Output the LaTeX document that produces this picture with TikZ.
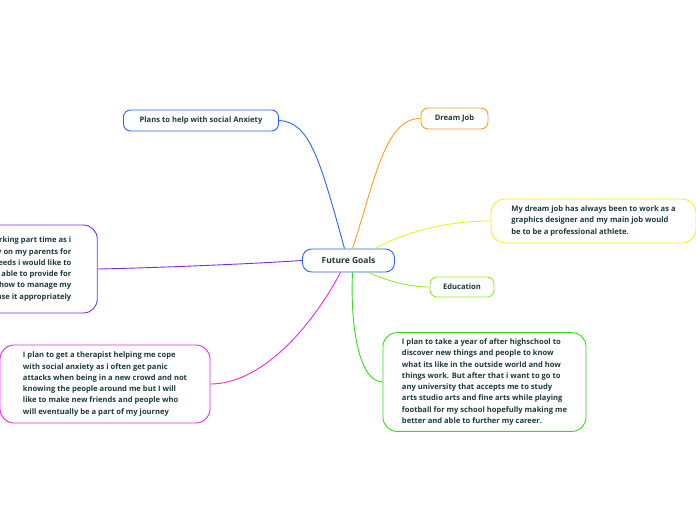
\documentclass[tikz,border=0pt]{standalone}
\usepackage{fontspec}
\setmainfont{Open Sans}
\definecolor{txt}{HTML}{1C3B3B}
\definecolor{cblue}{HTML}{2962FF}
\definecolor{corange}{HTML}{FF9E1A}
\definecolor{cyellow}{HTML}{F2F01E}
\definecolor{clime}{HTML}{9CE81C}
\definecolor{cgreen}{HTML}{33DD1A}
\definecolor{cpurple}{HTML}{7A2BF0}
\definecolor{cmag}{HTML}{E62BE6}
\tikzset{
 topic/.style={draw,rounded corners=7pt,line width=0.9pt,fill=white,font=\fontsize{7.6}{11.3}\selectfont\bfseries,text=txt,inner sep=4pt},
 big/.style={topic,rounded corners=14pt,align=left,inner xsep=9pt,inner ysep=6pt},
 link/.style={line width=0.9pt}
}
\begin{document}
\begin{tikzpicture}[x=1pt,y=-1pt]
\useasboundingbox (0,0) rectangle (696,520);
\clip (0,0) rectangle (696,520);
\node[topic,draw=cblue,minimum width=92pt,minimum height=23pt,rounded corners=9pt,font=\fontsize{8.5}{9}\selectfont\bfseries] (root) at (348.5,260.5) {Future Goals};
\node[topic,draw=cblue,minimum width=155pt,minimum height=21pt] (plans) at (201,120.5) {Plans to help with social Anxiety};
\node[topic,draw=corange,minimum width=67pt,minimum height=21pt] (dream) at (454.5,118.5) {Dream Job};
\node[big,draw=cyellow,minimum width=205pt,minimum height=44pt] (djtext) at (593.5,221) {My dream job has always been to work as a\\graphics designer and my main job would\\be to be a professional athlete.};
\node[topic,draw=clime,minimum width=64pt,minimum height=20pt] (edu) at (462,287) {Education};
\node[big,draw=cgreen,minimum width=203pt,minimum height=98pt] (edutext) at (484.5,382) {I plan to take a year of after highschool to\\discover new things and people to know\\what its like in the outside world and how\\things work. But after that i want to go to\\any university that accepts me to study\\arts studio arts and fine arts while playing\\football for my school hopefully making me\\better and able to further my career.};
\node[big,draw=cpurple,minimum height=88pt,align=right,inner xsep=26pt] (work) at (2,269) {I started working part time as i\\don't want to rely on my parents for\\all of my needs i would like to\\be able to provide for\\myself and know how to manage my\\money and use it appropriately};
\node[big,draw=cmag,minimum width=210pt,minimum height=78pt] (ther) at (105,384) {I plan to get a therapist helping me cope\\with social anxiety as i often get panic\\attacks when being in a new crowd and not\\knowing the people around me but I will\\like to make new friends and people who\\will eventually be a part of my journey};
\draw[link,cblue] (root.north)+(-4,0) .. controls (320,160) and (310,122) .. (plans.east);
\draw[link,corange] (root.north)+(4,0) .. controls (375,180) and (385,118) .. (dream.west);
\draw[link,cyellow] (root.north)+(26,0) .. controls (410,230) and (450,221) .. (djtext.west);
\draw[link,clime] (root.south)+(20,0) .. controls (390,282) and (410,287) .. (edu.west);
\draw[link,cgreen] (root.south)+(4,0) .. controls (350,330) and (360,382) .. (edutext.west);
\draw[link,cpurple] (root.west) .. controls (250,264) and (150,268) .. (work.east);
\draw[link,cmag] (root.south)+(-8,0) .. controls (310,330) and (260,384) .. (ther.east);
\end{tikzpicture}
\end{document}
